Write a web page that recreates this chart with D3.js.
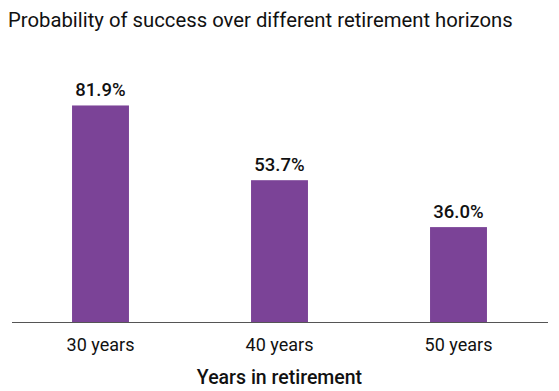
<!DOCTYPE html>
<html><head><meta charset="utf-8">
<script src="https://cdn.jsdelivr.net/npm/d3@7"></script>
<style>body{margin:0;background:#fff}svg{display:block}</style>
</head><body>
<svg id="c" width="559" height="391"></svg>
<script>
const categories = ["30 years", "40 years", "50 years"];
const values = [81.9, 53.7, 36.0];
const title = "Probability of success over different retirement horizons";
const xTitle = "Years in retirement";

const svg = d3.select("#c");
const font = "Roboto, 'Liberation Sans', Arial, sans-serif";
const baseY = 322.5;
const x = d3.scaleBand().domain(categories).range([11, 548]).paddingInner(0.682).paddingOuter(0.341);
const y = d3.scaleLinear().domain([0, 100]).range([baseY, baseY - 265]);

svg.append("text").attr("x", 8).attr("y", 27).attr("font-family", font).attr("font-size", 20.3)
  .attr("fill", "#111").text(title);

svg.selectAll("rect.bar").data(values).join("rect").attr("class", "bar")
  .attr("x", (d, i) => x(categories[i])).attr("width", x.bandwidth())
  .attr("y", d => y(d)).attr("height", d => baseY - y(d)).attr("fill", "#7B4397");

svg.selectAll("text.val").data(values).join("text").attr("class", "val")
  .attr("x", (d, i) => x(categories[i]) + x.bandwidth() / 2).attr("y", d => y(d) - 9)
  .attr("text-anchor", "middle").attr("font-family", font).attr("font-size", 18.5).attr("font-weight", 500)
  .attr("fill", "#111").text(d => d.toFixed(1) + "%");

const axis = d3.axisBottom(x).tickSize(0).tickPadding(16);
const g = svg.append("g").attr("transform", `translate(0,${baseY})`).call(axis);
g.select(".domain").attr("stroke", "#555").attr("stroke-width", 1.2).attr("d", "M12,0H548");
g.selectAll("text").attr("font-family", font).attr("font-size", 18).attr("fill", "#111");

svg.append("text").attr("x", 279.5).attr("y", 384).attr("text-anchor", "middle").attr("font-family", font)
  .attr("font-size", 19.5).attr("font-weight", 500).attr("fill", "#111").text(xTitle);
</script>
</body></html>
